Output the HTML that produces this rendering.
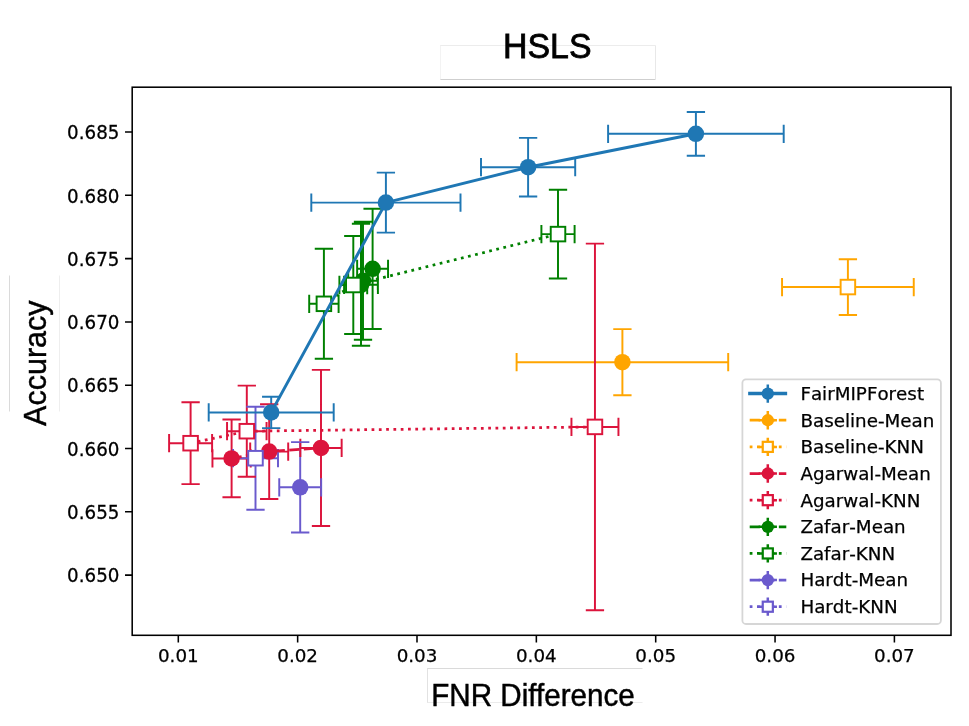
<!DOCTYPE html>
<html lang="en"><head><meta charset="utf-8"><title>HSLS</title>
<style>html,body{margin:0;padding:0;background:#fff}svg{display:block}.tk{font-family:"DejaVu Sans","Liberation Sans",sans-serif;font-size:18.3px;fill:#000;font-kerning:none;stroke:#000;stroke-width:0.25px}.lb{font-family:"Liberation Sans","Helvetica Neue",Helvetica,Arial,sans-serif;fill:#000;stroke:#000;stroke-width:0.45px}</style></head><body>
<svg width="969" height="726" viewBox="0 0 969 726">
<rect x="0" y="0" width="969" height="726" fill="#fff"/>
<g fill="none" stroke-width="1">
<path d="M440 45.5H655.5" stroke="#ececec"/>
<path d="M440 79.5H655.5" stroke="#cfcfcf"/>
<path d="M440.5 45.5V79.5" stroke="#f3f3f3"/>
<path d="M655.5 45.5V79.5" stroke="#e8e8e8"/>
<path d="M427 668.5H642.5" stroke="#dadada"/>
<path d="M427 702.5H642.5" stroke="#ebebeb"/>
<path d="M427.5 668.5V702.5" stroke="#e2e2e2"/>
<path d="M9.5 275.5V411.5" stroke="#dadada"/>
<path d="M59.5 275.5V411.5" stroke="#eeeeee"/>
</g>
<g stroke="#ffa500" stroke-width="1.95" fill="none" stroke-linecap="butt">
<path d="M516.6 362.2H728.2M622.4 329.1V395.3"/>
</g>
<g stroke="#ffa500" stroke-width="1.95" fill="none" stroke-linecap="butt">
<path d="M782.05 287.05H913.75M847.9 259.15V314.95"/>
</g>
<g stroke="#dc143c" stroke-width="1.95" fill="none" stroke-linecap="butt">
<path d="M212.45 458.4H250.75M231.6 419.55V497.25M250.2 451.6H288.2M269.2 404.3V498.9M300.35 447.9H341.65M321 369.85V525.95"/>
</g>
<g stroke="#dc143c" stroke-width="1.95" fill="none" stroke-linecap="butt">
<path d="M169.1 443.2H212.1M190.6 402.3V484.1M227.05 431.2H266.55M246.8 385.6V476.8M571.45 426.9H618.45M594.95 243.6V610.2"/>
</g>
<g stroke="#008000" stroke-width="1.95" fill="none" stroke-linecap="butt">
<path d="M344.1 284.8H377.9M361 223.8V345.8M348.2 280.8H377.8M363 221.8V339.8M357.15 268.8H388.05M372.6 208.7V328.9"/>
</g>
<g stroke="#008000" stroke-width="1.95" fill="none" stroke-linecap="butt">
<path d="M309.2 303.8H338.6M323.9 248.8V358.8M339.4 285H367.2M353.3 236V334M541.4 234.1H574.6M558 189.7V278.5"/>
</g>
<g stroke="#6a5acd" stroke-width="1.95" fill="none" stroke-linecap="butt">
<path d="M279.25 487.3H321.15M300.2 442.1V532.5"/>
</g>
<g stroke="#6a5acd" stroke-width="1.95" fill="none" stroke-linecap="butt">
<path d="M233 458.2H278M255.5 406.75V509.65"/>
</g>
<g stroke="#1f77b4" stroke-width="1.95" fill="none" stroke-linecap="butt">
<path d="M208.7 412.4H333.7M271.2 396.7V428.1M311.3 202.6H460.5M385.9 172.6V232.6M481 167.2H575.2M528.1 137.85V196.55M608.1 133.8H783.7M695.9 111.9V155.7"/>
</g>
<path d="M516.6 353.05V371.35M728.2 353.05V371.35M613.25 329.1H631.55M613.25 395.3H631.55" fill="none" stroke="#ffa500" stroke-width="1.95"/>
<path d="M782.05 277.9V296.2M913.75 277.9V296.2M838.75 259.15H857.05M838.75 314.95H857.05" fill="none" stroke="#ffa500" stroke-width="1.95"/>
<path d="M212.45 449.25V467.55M250.75 449.25V467.55M222.45 419.55H240.75M222.45 497.25H240.75M250.2 442.45V460.75M288.2 442.45V460.75M260.05 404.3H278.35M260.05 498.9H278.35M300.35 438.75V457.05M341.65 438.75V457.05M311.85 369.85H330.15M311.85 525.95H330.15" fill="none" stroke="#dc143c" stroke-width="1.95"/>
<path d="M169.1 434.05V452.35M212.1 434.05V452.35M181.45 402.3H199.75M181.45 484.1H199.75M227.05 422.05V440.35M266.55 422.05V440.35M237.65 385.6H255.95M237.65 476.8H255.95M571.45 417.75V436.05M618.45 417.75V436.05M585.8 243.6H604.1M585.8 610.2H604.1" fill="none" stroke="#dc143c" stroke-width="1.95"/>
<path d="M344.1 275.65V293.95M377.9 275.65V293.95M351.85 223.8H370.15M351.85 345.8H370.15M348.2 271.65V289.95M377.8 271.65V289.95M353.85 221.8H372.15M353.85 339.8H372.15M357.15 259.65V277.95M388.05 259.65V277.95M363.45 208.7H381.75M363.45 328.9H381.75" fill="none" stroke="#008000" stroke-width="1.95"/>
<path d="M309.2 294.65V312.95M338.6 294.65V312.95M314.75 248.8H333.05M314.75 358.8H333.05M339.4 275.85V294.15M367.2 275.85V294.15M344.15 236H362.45M344.15 334H362.45M541.4 224.95V243.25M574.6 224.95V243.25M548.85 189.7H567.15M548.85 278.5H567.15" fill="none" stroke="#008000" stroke-width="1.95"/>
<path d="M279.25 478.15V496.45M321.15 478.15V496.45M291.05 442.1H309.35M291.05 532.5H309.35" fill="none" stroke="#6a5acd" stroke-width="1.95"/>
<path d="M233 449.05V467.35M278 449.05V467.35M246.35 406.75H264.65M246.35 509.65H264.65" fill="none" stroke="#6a5acd" stroke-width="1.95"/>
<path d="M208.7 403.25V421.55M333.7 403.25V421.55M262.05 396.7H280.35M262.05 428.1H280.35M311.3 193.45V211.75M460.5 193.45V211.75M376.75 172.6H395.05M376.75 232.6H395.05M481 158.05V176.35M575.2 158.05V176.35M518.95 137.85H537.25M518.95 196.55H537.25M608.1 124.65V142.95M783.7 124.65V142.95M686.75 111.9H705.05M686.75 155.7H705.05" fill="none" stroke="#1f77b4" stroke-width="1.95"/>
<circle cx="622.4" cy="362.2" r="8.25" fill="#ffa500"/>
<rect x="840.62" y="279.78" width="14.55" height="14.55" fill="#fff" stroke="#ffa500" stroke-width="1.95"/>
<path d="M231.6 458.4L269.2 451.6L321 447.9" fill="none" stroke="#dc143c" stroke-width="2.75" stroke-linejoin="round" stroke-dasharray="10.18 4.4"/>
<circle cx="231.6" cy="458.4" r="8.25" fill="#dc143c"/>
<circle cx="269.2" cy="451.6" r="8.25" fill="#dc143c"/>
<circle cx="321" cy="447.9" r="8.25" fill="#dc143c"/>
<path d="M190.6 443.2L246.8 431.2L594.95 426.9" fill="none" stroke="#dc143c" stroke-width="2.75" stroke-linejoin="round" stroke-dasharray="2.75 4.54"/>
<rect x="183.32" y="435.93" width="14.55" height="14.55" fill="#fff" stroke="#dc143c" stroke-width="1.95"/>
<rect x="239.53" y="423.93" width="14.55" height="14.55" fill="#fff" stroke="#dc143c" stroke-width="1.95"/>
<rect x="587.68" y="419.62" width="14.55" height="14.55" fill="#fff" stroke="#dc143c" stroke-width="1.95"/>
<path d="M361 284.8L363 280.8L372.6 268.8" fill="none" stroke="#008000" stroke-width="2.75" stroke-linejoin="round" stroke-dasharray="10.18 4.4"/>
<circle cx="361" cy="284.8" r="8.25" fill="#008000"/>
<circle cx="363" cy="280.8" r="8.25" fill="#008000"/>
<circle cx="372.6" cy="268.8" r="8.25" fill="#008000"/>
<path d="M323.9 303.8L353.3 285L558 234.1" fill="none" stroke="#008000" stroke-width="2.75" stroke-linejoin="round" stroke-dasharray="2.75 4.54"/>
<rect x="316.62" y="296.53" width="14.55" height="14.55" fill="#fff" stroke="#008000" stroke-width="1.95"/>
<rect x="346.03" y="277.73" width="14.55" height="14.55" fill="#fff" stroke="#008000" stroke-width="1.95"/>
<rect x="550.73" y="226.82" width="14.55" height="14.55" fill="#fff" stroke="#008000" stroke-width="1.95"/>
<circle cx="300.2" cy="487.3" r="8.25" fill="#6a5acd"/>
<rect x="248.22" y="450.93" width="14.55" height="14.55" fill="#fff" stroke="#6a5acd" stroke-width="1.95"/>
<path d="M271.2 412.4L385.9 202.6L528.1 167.2L695.9 133.8" fill="none" stroke="#1f77b4" stroke-width="3" stroke-linejoin="round"/>
<circle cx="271.2" cy="412.4" r="8.25" fill="#1f77b4"/>
<circle cx="385.9" cy="202.6" r="8.25" fill="#1f77b4"/>
<circle cx="528.1" cy="167.2" r="8.25" fill="#1f77b4"/>
<circle cx="695.9" cy="133.8" r="8.25" fill="#1f77b4"/>
<g stroke="#000" stroke-width="1.55" fill="none">
<rect x="132.2" y="87.2" width="818.8" height="548.1"/>
<path d="M178.3 635.3v7.18M297.65 635.3v7.18M417 635.3v7.18M536.35 635.3v7.18M655.7 635.3v7.18M775.05 635.3v7.18M894.4 635.3v7.18M132.2 132h-7.18M132.2 195.3h-7.18M132.2 258.6h-7.18M132.2 321.9h-7.18M132.2 385.2h-7.18M132.2 448.5h-7.18M132.2 511.8h-7.18M132.2 575.1h-7.18"/>
</g>
<g class="tk">
<text x="178.3" y="662.2" text-anchor="middle">0.01</text>
<text x="297.65" y="662.2" text-anchor="middle">0.02</text>
<text x="417" y="662.2" text-anchor="middle">0.03</text>
<text x="536.35" y="662.2" text-anchor="middle">0.04</text>
<text x="655.7" y="662.2" text-anchor="middle">0.05</text>
<text x="775.05" y="662.2" text-anchor="middle">0.06</text>
<text x="894.4" y="662.2" text-anchor="middle">0.07</text>
<text transform="translate(119.4 139.2) scale(1 1.03)" text-anchor="end">0.685</text>
<text transform="translate(119.4 202.5) scale(1 1.03)" text-anchor="end">0.680</text>
<text transform="translate(119.4 265.8) scale(1 1.03)" text-anchor="end">0.675</text>
<text transform="translate(119.4 329.1) scale(1 1.03)" text-anchor="end">0.670</text>
<text transform="translate(119.4 392.4) scale(1 1.03)" text-anchor="end">0.665</text>
<text transform="translate(119.4 455.7) scale(1 1.03)" text-anchor="end">0.660</text>
<text transform="translate(119.4 519) scale(1 1.03)" text-anchor="end">0.655</text>
<text transform="translate(119.4 582.3) scale(1 1.03)" text-anchor="end">0.650</text>
</g>
<rect x="742.4" y="379.3" width="198.5" height="244.7" rx="3.6" ry="3.6" fill="#fff" fill-opacity="0.8" stroke="#cccccc" stroke-opacity="0.8" stroke-width="1.8"/>
<g stroke="#1f77b4" fill="none">
<path d="M749.9 393.6H785.4" stroke-width="3.5" stroke-linecap="square"/>
<path d="M758.65 393.6H776.95M767.8 384.45V402.75" stroke-width="2.5"/>
</g>
<circle cx="767.8" cy="393.6" r="6.15" fill="#1f77b4"/>
<text class="tk" x="800.4" y="400">FairMIPForest</text>
<g stroke="#ffa500" fill="none">
<path d="M749.7 420.24H786.3" stroke-width="2.75" stroke-dasharray="10.18 4.4"/>
<path d="M758.65 420.24H776.95M767.8 411.09V429.39" stroke-width="2.5"/>
</g>
<circle cx="767.8" cy="420.24" r="6.15" fill="#ffa500"/>
<text class="tk" x="800.4" y="426.64">Baseline-Mean</text>
<g stroke="#ffa500" fill="none">
<path d="M749.7 446.88H786.3" stroke-width="2.75" stroke-dasharray="2.75 4.54"/>
<path d="M758.65 446.88H776.95M767.8 437.73V456.03" stroke-width="2.5"/>
</g>
<rect x="762.75" y="441.83" width="10.1" height="10.1" fill="#fff" stroke="#ffa500" stroke-width="2.2"/>
<text class="tk" x="800.4" y="453.28">Baseline-KNN</text>
<g stroke="#dc143c" fill="none">
<path d="M749.7 473.52H786.3" stroke-width="2.75" stroke-dasharray="10.18 4.4"/>
<path d="M758.65 473.52H776.95M767.8 464.37V482.67" stroke-width="2.5"/>
</g>
<circle cx="767.8" cy="473.52" r="6.15" fill="#dc143c"/>
<text class="tk" x="800.4" y="479.92">Agarwal-Mean</text>
<g stroke="#dc143c" fill="none">
<path d="M749.7 500.16H786.3" stroke-width="2.75" stroke-dasharray="2.75 4.54"/>
<path d="M758.65 500.16H776.95M767.8 491.01V509.31" stroke-width="2.5"/>
</g>
<rect x="762.75" y="495.11" width="10.1" height="10.1" fill="#fff" stroke="#dc143c" stroke-width="2.2"/>
<text class="tk" x="800.4" y="506.56">Agarwal-KNN</text>
<g stroke="#008000" fill="none">
<path d="M749.7 526.8H786.3" stroke-width="2.75" stroke-dasharray="10.18 4.4"/>
<path d="M758.65 526.8H776.95M767.8 517.65V535.95" stroke-width="2.5"/>
</g>
<circle cx="767.8" cy="526.8" r="6.15" fill="#008000"/>
<text class="tk" x="800.4" y="533.2">Zafar-Mean</text>
<g stroke="#008000" fill="none">
<path d="M749.7 553.44H786.3" stroke-width="2.75" stroke-dasharray="2.75 4.54"/>
<path d="M758.65 553.44H776.95M767.8 544.29V562.59" stroke-width="2.5"/>
</g>
<rect x="762.75" y="548.39" width="10.1" height="10.1" fill="#fff" stroke="#008000" stroke-width="2.2"/>
<text class="tk" x="800.4" y="559.84">Zafar-KNN</text>
<g stroke="#6a5acd" fill="none">
<path d="M749.7 580.08H786.3" stroke-width="2.75" stroke-dasharray="10.18 4.4"/>
<path d="M758.65 580.08H776.95M767.8 570.93V589.23" stroke-width="2.5"/>
</g>
<circle cx="767.8" cy="580.08" r="6.15" fill="#6a5acd"/>
<text class="tk" x="800.4" y="586.48">Hardt-Mean</text>
<g stroke="#6a5acd" fill="none">
<path d="M749.7 606.72H786.3" stroke-width="2.75" stroke-dasharray="2.75 4.54"/>
<path d="M758.65 606.72H776.95M767.8 597.57V615.87" stroke-width="2.5"/>
</g>
<rect x="762.75" y="601.67" width="10.1" height="10.1" fill="#fff" stroke="#6a5acd" stroke-width="2.2"/>
<text class="tk" x="800.4" y="613.12">Hardt-KNN</text>
<text class="lb" transform="translate(547.3 57.6) scale(0.985 1)" text-anchor="middle" font-size="34.4" style="stroke-width:0.8px">HSLS</text>
<text class="lb" transform="translate(533.0 706.2) scale(0.968 1)" text-anchor="middle" font-size="30.6">FNR Difference</text>
<text class="lb" transform="translate(45.9 363.2) rotate(-90)" text-anchor="middle" font-size="30.5">Accuracy</text>
</svg></body></html>
